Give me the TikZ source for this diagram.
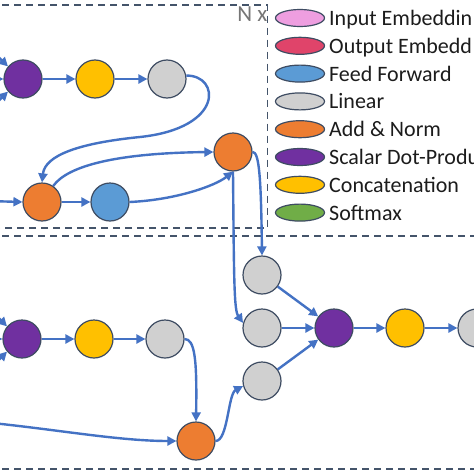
\documentclass[tikz,border=0pt]{standalone}
\usepackage{fontspec}
\setmainfont{Carlito}
\usetikzlibrary{arrows.meta,shapes.geometric}
\definecolor{arr}{HTML}{4472C4}
\definecolor{edge}{HTML}{3E4C62}
\definecolor{dashc}{HTML}{44546A}
\definecolor{cpurple}{HTML}{7030A0}
\definecolor{cyellow}{HTML}{FFC000}
\definecolor{cgray}{HTML}{D0D0D0}
\definecolor{corange}{HTML}{ED7D31}
\definecolor{cblue}{HTML}{5B9BD5}
\definecolor{cpink}{HTML}{EE9EE0}
\definecolor{cred}{HTML}{E0446A}
\definecolor{cgreen}{HTML}{70AD47}
\definecolor{txt}{HTML}{1C1C1C}
\definecolor{ntxt}{HTML}{767676}
\begin{document}
\begin{tikzpicture}[x=1pt,y=-1pt,
  circ/.style={circle, draw=edge, line width=1.2pt, minimum size=38pt, inner sep=0pt},
  conn/.style={draw=arr, line width=2.4pt, -{Triangle[length=9pt,width=9pt]}},
  dbox/.style={draw=dashc, line width=1.2pt, dash pattern=on 7pt off 5pt},
  legel/.style={ellipse, draw=edge, line width=1.2pt, minimum width=49pt, minimum height=17pt, inner sep=0pt},
  legtxt/.style={anchor=base west, text=txt, font=\fontsize{22}{24}\selectfont, inner sep=0pt}]
\clip (0,0) rectangle (474,474);
\fill[white] (0,0) rectangle (474,474);

% dashed boxes
\draw[dbox] (-10,5) -- (267.5,5) -- (267.5,228) -- (-10,228);
\draw[dbox] (-10,236) -- (484,236);
\draw[dbox] (-10,469) -- (484,469);
\node[anchor=base east, text=ntxt, font=\fontsize{23}{26}\selectfont, inner sep=0pt] (nx) at (267.5,21) {N x};

% top nodes
\node[circ, fill=cpurple] (P1) at (23,79) {};
\node[circ, fill=cyellow] (Y1) at (95,79) {};
\node[circ, fill=cgray] (G1) at (167,79) {};
\node[circ, fill=corange] (O2) at (233,152) {};
\node[circ, fill=corange] (O1) at (42,202) {};
\node[circ, fill=cblue] (B1) at (110,202) {};

% lower nodes
\node[circ, fill=cpurple] (P2) at (22,339) {};
\node[circ, fill=cyellow] (Y2) at (94,339) {};
\node[circ, fill=cgray] (G2) at (165,339) {};
\node[circ, fill=corange] (O3) at (196,441) {};
\node[circ, fill=cgray] (G3t) at (262,275) {};
\node[circ, fill=cgray] (G3m) at (262,328) {};
\node[circ, fill=cgray] (G3b) at (262,381) {};
\node[circ, fill=cpurple] (P3) at (334,328) {};
\node[circ, fill=cyellow] (Y3) at (405,328) {};
\node[circ, fill=cgray] (G4) at (477,328) {};

% off-image sources
\coordinate (s1) at (-12,47);
\coordinate (s2) at (-12,79);
\coordinate (s3) at (-12,111);
\coordinate (s4) at (-12,201);
\coordinate (s5) at (-12,307);
\coordinate (s6) at (-12,339);
\coordinate (s7) at (-12,371);
\coordinate (s8) at (-8,423);

% top connectors
\draw[conn] (s1) -- (P1.140);
\draw[conn] (s2) -- (P1.west);
\draw[conn] (s3) -- (P1.220);
\draw[conn] (P1) -- (Y1);
\draw[conn] (Y1) -- (G1);
\draw[conn] (G1.10) .. controls (220,75) and (225,128) .. (140,137) .. controls (80,143) and (45,155) .. (O1.north);
\draw[conn] (s4) -- (O1.west);
\draw[conn] (O1) -- (B1);
\draw[conn] (O1.55) .. controls (68,165) and (120,153) .. (O2.west);
\draw[conn] (B1.east) .. controls (175,200) and (215,186) .. (O2.south);
\draw[conn] (O2.south) .. controls (234,280) and (234,310) .. (G3m.165);
\draw[conn] (O2.east) .. controls (259,152) and (261,175) .. (G3t.north);

% lower connectors
\draw[conn] (s5) -- (P2.140);
\draw[conn] (s6) -- (P2.west);
\draw[conn] (s7) -- (P2.220);
\draw[conn] (P2) -- (Y2);
\draw[conn] (Y2) -- (G2);
\draw[conn] (G2.east) .. controls (195,339) and (197,360) .. (O3.north);
\draw[conn] (s8) .. controls (60,430) and (120,441) .. (O3.west);
\draw[conn] (O3.east) .. controls (228,441) and (228,394) .. (G3b.195);
\draw[conn] (G3t) -- (P3);
\draw[conn] (G3m) -- (P3);
\draw[conn] (G3b) -- (P3);
\draw[conn] (P3) -- (Y3);
\draw[conn] (Y3) -- (G4);

% legend
\foreach \i/\c/\t in {0/cpink/Input Embeddin, 1/cred/Output Embedd, 2/cblue/Feed Forward, 3/cgray/Linear, 4/corange/Add \& Norm, 5/cpurple/Scalar Dot-Produ, 6/cyellow/Concatenation, 7/cgreen/Softmax}{
  \node[legel, fill=\c] (L\i) at (300,18+27.8*\i) {};
  \node[legtxt] (T\i) at (329,25.5+27.8*\i) {\t};
}
\end{tikzpicture}
\end{document}
